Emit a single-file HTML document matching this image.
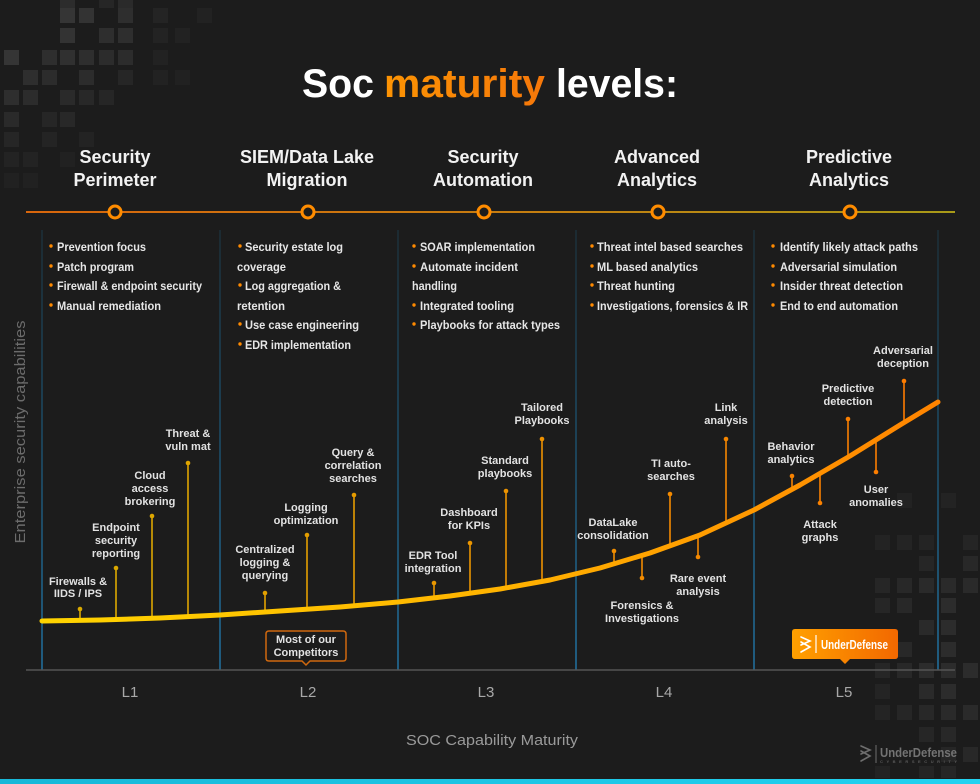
<!DOCTYPE html>
<html><head><meta charset="utf-8"><style>
html,body{margin:0;padding:0;background:#1c1c1c;}
svg{display:block;}
text{font-family:"Liberation Sans",sans-serif;}
.b{font-weight:bold;fill:#e6e6e6;font-size:12px;}
.lb{font-weight:bold;fill:#e2e2e2;font-size:11px;text-anchor:middle;}
.h{font-weight:bold;fill:#f2f2f2;font-size:18px;text-anchor:middle;}
.L{fill:#a8a8a8;font-size:15px;text-anchor:middle;}
</style></head><body>
<svg width="980" height="784" viewBox="0 0 980 784" xmlns="http://www.w3.org/2000/svg">
<defs>
<linearGradient id="tg" x1="302" x2="678" y1="0" y2="0" gradientUnits="userSpaceOnUse"><stop offset="0" stop-color="#ffa200"/><stop offset="1" stop-color="#f0600f"/></linearGradient>
<linearGradient id="tl" x1="26" x2="955" y1="0" y2="0" gradientUnits="userSpaceOnUse"><stop offset="0" stop-color="#d8660c"/><stop offset="0.55" stop-color="#c47e10"/><stop offset="1" stop-color="#a89a18"/></linearGradient>
<linearGradient id="vl" x1="0" x2="0" y1="230" y2="670" gradientUnits="userSpaceOnUse"><stop offset="0" stop-color="#1c3440"/><stop offset="0.5" stop-color="#1d5c80"/><stop offset="1" stop-color="#2288c4"/></linearGradient>
<linearGradient id="cg" x1="42" x2="938" y1="0" y2="0" gradientUnits="userSpaceOnUse"><stop offset="0" stop-color="#ffd400"/><stop offset="0.5" stop-color="#ffb400"/><stop offset="1" stop-color="#ff8400"/></linearGradient>
<linearGradient id="sg" x1="42" x2="938" y1="0" y2="0" gradientUnits="userSpaceOnUse"><stop offset="0" stop-color="#d8ac00"/><stop offset="0.5" stop-color="#eb9400"/><stop offset="1" stop-color="#ff7a00"/></linearGradient>
<linearGradient id="bg2" x1="792" x2="898" y1="0" y2="0" gradientUnits="userSpaceOnUse"><stop offset="0" stop-color="#ffa000"/><stop offset="1" stop-color="#f26800"/></linearGradient>
<linearGradient id="cy" x1="0" x2="980" y1="0" y2="0" gradientUnits="userSpaceOnUse"><stop offset="0" stop-color="#18b8d8"/><stop offset="1" stop-color="#22d2f0"/></linearGradient>
</defs>
<rect width="980" height="784" fill="#1c1c1c"/>

<!-- decorative squares top-left -->
<g>
<rect x="60" y="-7" width="15" height="15" fill="#2c2c2c"/><rect x="99" y="-7" width="15" height="15" fill="#262626"/><rect x="118" y="-7" width="15" height="15" fill="#2a2a2a"/>
<rect x="60" y="8" width="15" height="15" fill="#353535"/><rect x="79" y="8" width="15" height="15" fill="#333"/><rect x="118" y="8" width="15" height="15" fill="#2e2e2e"/><rect x="153" y="8" width="15" height="15" fill="#242424"/><rect x="197" y="8" width="15" height="15" fill="#222"/>
<rect x="60" y="28" width="15" height="15" fill="#333"/><rect x="99" y="28" width="15" height="15" fill="#2e2e2e"/><rect x="118" y="28" width="15" height="15" fill="#2e2e2e"/><rect x="153" y="28" width="15" height="15" fill="#232323"/><rect x="175" y="28" width="15" height="15" fill="#222"/>
<rect x="4" y="50" width="15" height="15" fill="#353535"/><rect x="42" y="50" width="15" height="15" fill="#2e2e2e"/><rect x="60" y="50" width="15" height="15" fill="#303030"/><rect x="79" y="50" width="15" height="15" fill="#2e2e2e"/><rect x="99" y="50" width="15" height="15" fill="#2c2c2c"/><rect x="118" y="50" width="15" height="15" fill="#2c2c2c"/><rect x="153" y="50" width="15" height="15" fill="#222"/>
<rect x="23" y="70" width="15" height="15" fill="#2e2e2e"/><rect x="42" y="70" width="15" height="15" fill="#2c2c2c"/><rect x="79" y="70" width="15" height="15" fill="#2c2c2c"/><rect x="118" y="70" width="15" height="15" fill="#262626"/><rect x="153" y="70" width="15" height="15" fill="#222"/><rect x="175" y="70" width="15" height="15" fill="#212121"/>
<rect x="4" y="90" width="15" height="15" fill="#2e2e2e"/><rect x="23" y="90" width="15" height="15" fill="#2c2c2c"/><rect x="60" y="90" width="15" height="15" fill="#2a2a2a"/><rect x="79" y="90" width="15" height="15" fill="#282828"/><rect x="99" y="90" width="15" height="15" fill="#262626"/>
<rect x="4" y="112" width="15" height="15" fill="#2a2a2a"/><rect x="42" y="112" width="15" height="15" fill="#262626"/><rect x="60" y="112" width="15" height="15" fill="#282828"/>
<rect x="4" y="132" width="15" height="15" fill="#262626"/><rect x="42" y="132" width="15" height="15" fill="#242424"/><rect x="79" y="132" width="15" height="15" fill="#232323"/>
<rect x="4" y="152" width="15" height="15" fill="#232323"/><rect x="23" y="152" width="15" height="15" fill="#232323"/><rect x="60" y="152" width="15" height="15" fill="#212121"/>
<rect x="4" y="173" width="15" height="15" fill="#212121"/><rect x="23" y="173" width="15" height="15" fill="#212121"/>
</g>
<!-- decorative squares bottom-right -->
<g>
<rect x="897" y="493" width="15" height="15" fill="#222"/><rect x="941" y="493" width="15" height="15" fill="#232323"/>
<rect x="875" y="535" width="15" height="15" fill="#232323"/><rect x="897" y="535" width="15" height="15" fill="#242424"/><rect x="919" y="535" width="15" height="15" fill="#242424"/><rect x="963" y="535" width="15" height="15" fill="#252525"/>
<rect x="919" y="556" width="15" height="15" fill="#262626"/><rect x="963" y="556" width="15" height="15" fill="#282828"/>
<rect x="875" y="578" width="15" height="15" fill="#262626"/><rect x="897" y="578" width="15" height="15" fill="#282828"/><rect x="919" y="578" width="15" height="15" fill="#2a2a2a"/><rect x="941" y="578" width="15" height="15" fill="#2a2a2a"/><rect x="963" y="578" width="15" height="15" fill="#2a2a2a"/>
<rect x="875" y="598" width="15" height="15" fill="#262626"/><rect x="897" y="598" width="15" height="15" fill="#282828"/><rect x="941" y="598" width="15" height="15" fill="#2c2c2c"/>
<rect x="919" y="620" width="15" height="15" fill="#2a2a2a"/><rect x="941" y="620" width="15" height="15" fill="#2c2c2c"/>
<rect x="897" y="642" width="15" height="15" fill="#282828"/><rect x="941" y="642" width="15" height="15" fill="#2c2c2c"/>
<rect x="875" y="663" width="15" height="15" fill="#262626"/><rect x="897" y="663" width="15" height="15" fill="#282828"/><rect x="919" y="663" width="15" height="15" fill="#2c2c2c"/><rect x="941" y="663" width="15" height="15" fill="#2c2c2c"/><rect x="963" y="663" width="15" height="15" fill="#2c2c2c"/>
<rect x="875" y="684" width="15" height="15" fill="#242424"/><rect x="919" y="684" width="15" height="15" fill="#2a2a2a"/><rect x="941" y="684" width="15" height="15" fill="#2c2c2c"/>
<rect x="875" y="705" width="15" height="15" fill="#242424"/><rect x="897" y="705" width="15" height="15" fill="#262626"/><rect x="919" y="705" width="15" height="15" fill="#282828"/><rect x="941" y="705" width="15" height="15" fill="#2a2a2a"/><rect x="963" y="705" width="15" height="15" fill="#2a2a2a"/>
<rect x="919" y="727" width="15" height="15" fill="#262626"/><rect x="941" y="727" width="15" height="15" fill="#282828"/>
<rect x="941" y="747" width="15" height="15" fill="#262626"/><rect x="963" y="747" width="15" height="15" fill="#282828"/>
<rect x="875" y="766" width="15" height="12" fill="#232323"/><rect x="919" y="766" width="15" height="12" fill="#252525"/><rect x="941" y="766" width="15" height="12" fill="#262626"/>
</g>

<!-- title -->
<text x="302" y="97" font-size="40" font-weight="bold" fill="#ffffff" textLength="72" lengthAdjust="spacingAndGlyphs">Soc</text>
<text x="384" y="97" font-size="40" font-weight="bold" fill="url(#tg)" textLength="161" lengthAdjust="spacingAndGlyphs">maturity</text>
<text x="556" y="97" font-size="40" font-weight="bold" fill="#ffffff" textLength="122" lengthAdjust="spacingAndGlyphs">levels:</text>

<!-- section headings -->
<text class="h" x="115" y="163">Security</text><text class="h" x="115" y="186">Perimeter</text>
<text class="h" x="307" y="163">SIEM/Data Lake</text><text class="h" x="307" y="186">Migration</text>
<text class="h" x="483" y="163">Security</text><text class="h" x="483" y="186">Automation</text>
<text class="h" x="657" y="163">Advanced</text><text class="h" x="657" y="186">Analytics</text>
<text class="h" x="849" y="163">Predictive</text><text class="h" x="849" y="186">Analytics</text>

<!-- timeline -->
<line x1="26" y1="212" x2="955" y2="212" stroke="url(#tl)" stroke-width="2"/>
<g fill="#1c1c1c" stroke="#ff8c00" stroke-width="3">
<circle cx="115" cy="212" r="6"/><circle cx="308" cy="212" r="6"/><circle cx="484" cy="212" r="6"/><circle cx="658" cy="212" r="6"/><circle cx="850" cy="212" r="6"/>
</g>

<!-- vertical lines -->
<g stroke="url(#vl)" stroke-width="1.2">
<line x1="42" y1="230" x2="42" y2="670"/><line x1="220" y1="230" x2="220" y2="670"/><line x1="398" y1="230" x2="398" y2="670"/><line x1="576" y1="230" x2="576" y2="670"/><line x1="754" y1="230" x2="754" y2="670"/><line x1="938" y1="230" x2="938" y2="670"/>
</g>
<line x1="26" y1="670" x2="955" y2="670" stroke="#555" stroke-width="1.5"/>

<!-- bullets -->
<g fill="#ff8a00">
<circle cx="51" cy="246" r="1.7"/><circle cx="51" cy="266" r="1.7"/><circle cx="51" cy="285" r="1.7"/><circle cx="51" cy="305" r="1.7"/>
<circle cx="240" cy="246" r="1.7"/><circle cx="240" cy="285" r="1.7"/><circle cx="240" cy="324" r="1.7"/><circle cx="240" cy="344" r="1.7"/>
<circle cx="414" cy="246" r="1.7"/><circle cx="414" cy="266" r="1.7"/><circle cx="414" cy="305" r="1.7"/><circle cx="414" cy="324" r="1.7"/>
<circle cx="592" cy="246" r="1.7"/><circle cx="592" cy="266" r="1.7"/><circle cx="592" cy="285" r="1.7"/><circle cx="592" cy="305" r="1.7"/>
<circle cx="773" cy="246" r="1.7"/><circle cx="773" cy="266" r="1.7"/><circle cx="773" cy="285" r="1.7"/><circle cx="773" cy="305" r="1.7"/>
</g>
<g class="bl">
<text class="b" x="57" y="251" textLength="89" lengthAdjust="spacingAndGlyphs">Prevention focus</text>
<text class="b" x="57" y="271" textLength="77" lengthAdjust="spacingAndGlyphs">Patch program</text>
<text class="b" x="57" y="290" textLength="145" lengthAdjust="spacingAndGlyphs">Firewall &amp; endpoint security</text>
<text class="b" x="57" y="310" textLength="104" lengthAdjust="spacingAndGlyphs">Manual remediation</text>

<text class="b" x="245" y="251" textLength="98" lengthAdjust="spacingAndGlyphs">Security estate log</text>
<text class="b" x="237" y="271" textLength="49" lengthAdjust="spacingAndGlyphs">coverage</text>
<text class="b" x="245" y="290" textLength="96" lengthAdjust="spacingAndGlyphs">Log aggregation &amp;</text>
<text class="b" x="237" y="310" textLength="48" lengthAdjust="spacingAndGlyphs">retention</text>
<text class="b" x="245" y="329" textLength="114" lengthAdjust="spacingAndGlyphs">Use case engineering</text>
<text class="b" x="245" y="349" textLength="106" lengthAdjust="spacingAndGlyphs">EDR implementation</text>

<text class="b" x="420" y="251" textLength="115" lengthAdjust="spacingAndGlyphs">SOAR implementation</text>
<text class="b" x="420" y="271" textLength="98" lengthAdjust="spacingAndGlyphs">Automate incident</text>
<text class="b" x="412" y="290" textLength="45" lengthAdjust="spacingAndGlyphs">handling</text>
<text class="b" x="420" y="310" textLength="94" lengthAdjust="spacingAndGlyphs">Integrated tooling</text>
<text class="b" x="420" y="329" textLength="140" lengthAdjust="spacingAndGlyphs">Playbooks for attack types</text>

<text class="b" x="597" y="251" textLength="146" lengthAdjust="spacingAndGlyphs">Threat intel based searches</text>
<text class="b" x="597" y="271" textLength="101" lengthAdjust="spacingAndGlyphs">ML based analytics</text>
<text class="b" x="597" y="290" textLength="78" lengthAdjust="spacingAndGlyphs">Threat hunting</text>
<text class="b" x="597" y="310" textLength="151" lengthAdjust="spacingAndGlyphs">Investigations, forensics &amp; IR</text>

<text class="b" x="780" y="251" textLength="138" lengthAdjust="spacingAndGlyphs">Identify likely attack paths</text>
<text class="b" x="780" y="271" textLength="117" lengthAdjust="spacingAndGlyphs">Adversarial simulation</text>
<text class="b" x="780" y="290" textLength="123" lengthAdjust="spacingAndGlyphs">Insider threat detection</text>
<text class="b" x="780" y="310" textLength="118" lengthAdjust="spacingAndGlyphs">End to end automation</text>
</g>

<!-- y axis label -->
<text transform="translate(25,432) rotate(-90)" text-anchor="middle" font-size="15" fill="#6c6c6c" textLength="223" lengthAdjust="spacingAndGlyphs">Enterprise security capabilities</text>

<!-- stems -->
<g stroke="url(#sg)" stroke-width="1.6">
<line x1="80" y1="609" x2="80" y2="620"/>
<line x1="116" y1="568" x2="116" y2="619"/>
<line x1="152" y1="516" x2="152" y2="618"/>
<line x1="188" y1="463" x2="188" y2="617"/>
<line x1="265" y1="593" x2="265" y2="612"/>
<line x1="307" y1="535" x2="307" y2="609"/>
<line x1="354" y1="495" x2="354" y2="606"/>
<line x1="434" y1="583" x2="434" y2="598"/>
<line x1="470" y1="543" x2="470" y2="593"/>
<line x1="506" y1="491" x2="506" y2="588"/>
<line x1="542" y1="439" x2="542" y2="582"/>
<line x1="614" y1="551" x2="614" y2="564"/>
<line x1="642" y1="555" x2="642" y2="578"/>
<line x1="670" y1="494" x2="670" y2="546"/>
<line x1="698" y1="536" x2="698" y2="557"/>
<line x1="726" y1="439" x2="726" y2="523"/>
<line x1="792" y1="476" x2="792" y2="489"/>
<line x1="820" y1="473" x2="820" y2="503"/>
<line x1="848" y1="419" x2="848" y2="457"/>
<line x1="876" y1="440" x2="876" y2="472"/>
<line x1="904" y1="381" x2="904" y2="423"/>
</g>
<g fill="url(#sg)">
<circle cx="80" cy="609" r="2.3"/><circle cx="116" cy="568" r="2.3"/><circle cx="152" cy="516" r="2.3"/><circle cx="188" cy="463" r="2.3"/>
<circle cx="265" cy="593" r="2.3"/><circle cx="307" cy="535" r="2.3"/><circle cx="354" cy="495" r="2.3"/>
<circle cx="434" cy="583" r="2.3"/><circle cx="470" cy="543" r="2.3"/><circle cx="506" cy="491" r="2.3"/><circle cx="542" cy="439" r="2.3"/>
<circle cx="614" cy="551" r="2.3"/><circle cx="642" cy="578" r="2.3"/><circle cx="670" cy="494" r="2.3"/><circle cx="698" cy="557" r="2.3"/><circle cx="726" cy="439" r="2.3"/>
<circle cx="792" cy="476" r="2.3"/><circle cx="820" cy="503" r="2.3"/><circle cx="848" cy="419" r="2.3"/><circle cx="876" cy="472" r="2.3"/><circle cx="904" cy="381" r="2.3"/>
</g>

<!-- curve -->
<polyline fill="none" stroke="url(#cg)" stroke-width="5" stroke-linecap="round" stroke-linejoin="round"
points="42,621 100,620 160,618 220,615 280,611 340,607 398,602 450,596 500,589 550,580 600,568 650,553 700,535 754,510 800,485 850,456 900,425 938,402"/>

<!-- stem labels -->
<g>
<text class="lb" x="78" y="585">Firewalls &amp;</text><text class="lb" x="78" y="597">IIDS / IPS</text>
<text class="lb" x="116" y="531">Endpoint</text><text class="lb" x="116" y="544">security</text><text class="lb" x="116" y="557">reporting</text>
<text class="lb" x="150" y="479">Cloud</text><text class="lb" x="150" y="492">access</text><text class="lb" x="150" y="505">brokering</text>
<text class="lb" x="188" y="437">Threat &amp;</text><text class="lb" x="188" y="450">vuln mat</text>
<text class="lb" x="265" y="553">Centralized</text><text class="lb" x="265" y="566">logging &amp;</text><text class="lb" x="265" y="579">querying</text>
<text class="lb" x="306" y="511">Logging</text><text class="lb" x="306" y="524">optimization</text>
<text class="lb" x="353" y="456">Query &amp;</text><text class="lb" x="353" y="469">correlation</text><text class="lb" x="353" y="482">searches</text>
<text class="lb" x="433" y="559">EDR Tool</text><text class="lb" x="433" y="572">integration</text>
<text class="lb" x="469" y="516">Dashboard</text><text class="lb" x="469" y="529">for KPIs</text>
<text class="lb" x="505" y="464">Standard</text><text class="lb" x="505" y="477">playbooks</text>
<text class="lb" x="542" y="411">Tailored</text><text class="lb" x="542" y="424">Playbooks</text>
<text class="lb" x="613" y="526">DataLake</text><text class="lb" x="613" y="539">consolidation</text>
<text class="lb" x="642" y="609">Forensics &amp;</text><text class="lb" x="642" y="622">Investigations</text>
<text class="lb" x="671" y="467">TI auto-</text><text class="lb" x="671" y="480">searches</text>
<text class="lb" x="698" y="582">Rare event</text><text class="lb" x="698" y="595">analysis</text>
<text class="lb" x="726" y="411">Link</text><text class="lb" x="726" y="424">analysis</text>
<text class="lb" x="791" y="450">Behavior</text><text class="lb" x="791" y="463">analytics</text>
<text class="lb" x="820" y="528">Attack</text><text class="lb" x="820" y="541">graphs</text>
<text class="lb" x="848" y="392">Predictive</text><text class="lb" x="848" y="405">detection</text>
<text class="lb" x="876" y="493">User</text><text class="lb" x="876" y="506">anomalies</text>
<text class="lb" x="903" y="354">Adversarial</text><text class="lb" x="903" y="367">deception</text>
</g>

<!-- competitors box -->
<path d="M269,631 H343 Q346,631 346,634 V658 Q346,661 343,661 H310 L306,665 L302,661 H269 Q266,661 266,658 V634 Q266,631 269,631 Z" fill="#1c1c1c" stroke="#d0680e" stroke-width="1.5"/>
<text class="lb" x="306" y="643" fill="#f2f2f2">Most of our</text>
<text class="lb" x="306" y="656" fill="#f2f2f2">Competitors</text>

<!-- UnderDefense badge -->
<path d="M795,629 H895 Q898,629 898,632 V656 Q898,659 895,659 H850 L845,664 L840,659 H795 Q792,659 792,656 V632 Q792,629 795,629 Z" fill="url(#bg2)"/>
<g fill="none" stroke="#fff" stroke-width="1.6" stroke-linecap="round">
<polyline points="801,637 810,641 801,645"/>
<polyline points="801,642 810,647 801,652"/>
</g>
<line x1="816" y1="635" x2="816" y2="653" stroke="#fff" stroke-width="1.2"/>
<text x="821" y="649" font-size="12.5" font-weight="bold" fill="#ffffff" textLength="67" lengthAdjust="spacingAndGlyphs">UnderDefense</text>

<!-- x labels -->
<text class="L" x="130" y="697">L1</text>
<text class="L" x="308" y="697">L2</text>
<text class="L" x="486" y="697">L3</text>
<text class="L" x="664" y="697">L4</text>
<text class="L" x="844" y="697">L5</text>
<text x="492" y="745" text-anchor="middle" font-size="15" fill="#9a9a9a" textLength="172" lengthAdjust="spacingAndGlyphs">SOC Capability Maturity</text>

<!-- footer logo -->
<g fill="none" stroke="#6e6e6e" stroke-width="1.6" stroke-linecap="round">
<polyline points="861,746 870,750 861,754"/>
<polyline points="861,751 870,756 861,761"/>
</g>
<line x1="876" y1="745" x2="876" y2="763" stroke="#6e6e6e" stroke-width="1"/>
<text x="880" y="757" font-size="13" font-weight="bold" fill="#737373" textLength="77" lengthAdjust="spacingAndGlyphs">UnderDefense</text>
<text x="880" y="763" font-size="4" font-weight="bold" fill="#5a5a5a" textLength="77" lengthAdjust="spacing">CYBERSECURITY</text>

<!-- bottom bar -->
<rect x="0" y="779" width="980" height="5" fill="url(#cy)"/>
</svg>
</body></html>
